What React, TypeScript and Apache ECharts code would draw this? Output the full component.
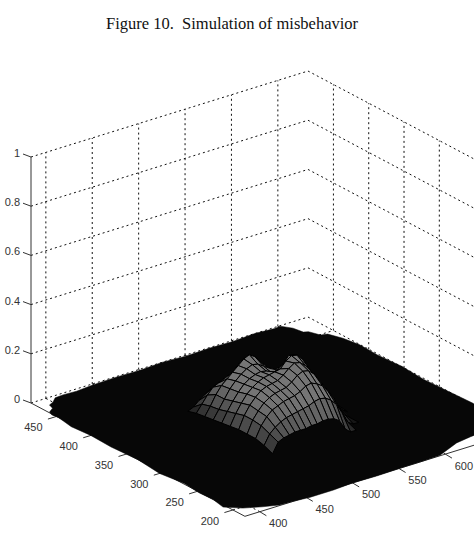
import React, { useEffect, useRef } from "react";
import * as echarts from "echarts";

const titleText = "Figure 10.  Simulation of misbehavior";
const xTicks = [400, 450, 500, 550, 600];
const xWallTicks = [400, 450, 500, 550, 600, 650];
const yTicks = [200, 250, 300, 350, 400, 450];
const zTicks = [0, 0.2, 0.4, 0.6, 0.8, 1];

const surfaceX = [480, 486, 492, 498, 504, 510, 516, 522, 528, 534, 540, 546, 552, 558, 564, 570, 576, 582, 588];
const surfaceY = [390, 378, 366, 354, 342, 330, 318, 306, 294, 282, 270];
const surfaceZ = [
  [0, 0.01, 0.03, 0.045, 0.06, 0.07, 0.08, 0.09, 0.1, 0.1, 0.09, 0.07, 0.05, 0.04, 0.03, 0.02, 0.01, 0, 0],
  [0.01, 0.04, 0.07, 0.095, 0.105, 0.115, 0.125, 0.14, 0.165, 0.17, 0.15, 0.13, 0.11, 0.095, 0.08, 0.06, 0.03, 0.01, 0],
  [0.015, 0.05, 0.09, 0.12, 0.14, 0.16, 0.18, 0.2, 0.21, 0.195, 0.165, 0.135, 0.115, 0.11, 0.11, 0.1, 0.07, 0.02, 0],
  [0.02, 0.055, 0.09, 0.125, 0.15, 0.17, 0.185, 0.195, 0.19, 0.175, 0.16, 0.145, 0.145, 0.15, 0.155, 0.14, 0.09, 0.03, 0],
  [0.025, 0.065, 0.1, 0.13, 0.155, 0.17, 0.18, 0.185, 0.18, 0.165, 0.17, 0.185, 0.215, 0.21, 0.19, 0.16, 0.11, 0.05, 0.01],
  [0.03, 0.075, 0.11, 0.14, 0.16, 0.175, 0.185, 0.19, 0.195, 0.2, 0.225, 0.24, 0.235, 0.21, 0.17, 0.13, 0.09, 0.04, 0.01],
  [0.035, 0.085, 0.12, 0.145, 0.165, 0.175, 0.18, 0.185, 0.2, 0.22, 0.235, 0.23, 0.21, 0.18, 0.145, 0.105, 0.07, 0.03, 0.005],
  [0.035, 0.085, 0.115, 0.14, 0.155, 0.165, 0.17, 0.175, 0.19, 0.21, 0.22, 0.215, 0.195, 0.16, 0.125, 0.085, 0.045, 0.015, 0],
  [0.035, 0.08, 0.11, 0.13, 0.14, 0.15, 0.155, 0.16, 0.17, 0.185, 0.19, 0.18, 0.165, 0.135, 0.1, 0.055, 0.02, 0, 0],
  [0.025, 0.065, 0.085, 0.1, 0.11, 0.115, 0.12, 0.125, 0.13, 0.14, 0.145, 0.14, 0.125, 0.1, 0.06, 0.015, 0, 0, 0],
  [0.01, 0.05, 0.06, 0.065, 0.07, 0.07, 0.07, 0.075, 0.075, 0.08, 0.08, 0.075, 0.06, 0.02, 0, 0, 0, 0, 0],
];

const floorEdgeX = [385, 392, 394, 400, 407, 416, 430, 449, 475, 500, 525, 550, 575, 600, 625, 645, 652, 658, 660, 664, 668, 674, 679, 682, 681, 683, 681, 684, 682, 683, 680, 660, 644, 622, 595, 575, 551, 525, 500, 478, 453, 436, 422, 408, 393, 381, 384, 383, 385, 381, 384, 382, 383, 381, 384, 383];
const floorEdgeY = [461, 466, 473, 476, 482, 483, 482, 484, 485, 484, 486, 484, 485, 484, 486, 484, 485, 475, 463, 461, 449, 447, 432, 412, 385, 354, 320, 255, 225, 205, 202, 198, 200, 196, 184, 183, 183, 182, 183, 181, 181, 183, 184, 190, 198, 210, 228, 246, 270, 300, 335, 370, 400, 425, 447, 455];

const X_MIN = 384;
const X_MAX = 682.5;
const Y_MIN = 183;
const Y_MAX = 486;

type P3 = [number, number, number];

function project(x: number, y: number, z: number): [number, number] {
  const dx = x - X_MIN;
  const dy = Y_MAX - y;
  return [31 + 0.928 * dx + 0.706 * dy, 403 - 0.288 * dx + 0.374 * dy - 246 * z];
}

const wallSegments: P3[][] = [];
xWallTicks.forEach((x) => {
  wallSegments.push([[x, Y_MAX, 0], [x, Y_MAX, 1]]);
  wallSegments.push([[x, Y_MIN, 0], [x, Y_MAX, 0]]);
});
yTicks.forEach((y) => {
  wallSegments.push([[X_MAX, y, 0], [X_MAX, y, 1]]);
  wallSegments.push([[X_MIN, y, 0], [X_MAX, y, 0]]);
});
zTicks.forEach((z) => {
  wallSegments.push([[X_MIN, Y_MAX, z], [X_MAX, Y_MAX, z], [X_MAX, Y_MIN, z]]);
});

const axisSegments: P3[][] = [
  [[X_MIN, Y_MAX, 0], [X_MIN, Y_MAX, 1]],
  [[X_MIN, Y_MAX, 0], [X_MIN, Y_MIN, 0]],
  [[X_MIN, Y_MIN, 0], [X_MAX, Y_MIN, 0]],
];

type Tick = { at: P3; tick: [number, number]; label: [number, number]; text: string; align: string };
const ticks: Tick[] = [
  ...zTicks.map((z) => ({ at: [X_MIN, Y_MAX, z] as P3, tick: [-8, -3] as [number, number], label: [-11, -4] as [number, number], text: String(z), align: "right" })),
  ...yTicks.map((y) => ({ at: [X_MIN, y, 0] as P3, tick: [-8.5, 2.6] as [number, number], label: [-23, 11] as [number, number], text: String(y), align: "center" })),
  ...xTicks.map((x) => ({ at: [x, Y_MIN, 0] as P3, tick: [6.6, 4] as [number, number], label: [18.5, 11.5] as [number, number], text: String(x), align: "center" })),
];

type Cell = { i: number; j: number };
const cells: Cell[] = [];
// painter's order: far corner (high x, high y) first
for (let i = surfaceX.length - 2; i >= 0; i--) {
  for (let j = 0; j < surfaceY.length - 1; j++) {
    cells.push({ i, j });
  }
}

function greyOf(z: number): string {
  const v = Math.min(0.46, Math.sqrt(Math.max(z, 0)) * 1.2);
  const c = Math.round(v * 255);
  return `rgb(${c},${c},${c})`;
}

const indexData = (n: number) => Array.from({ length: n }, (_, k) => [k, 0]);

export default function App() {
  const ref = useRef<HTMLDivElement>(null);
  useEffect(() => {
    document.body.style.margin = "0";
    document.body.style.background = "#fff";
    const chart = echarts.init(ref.current!, undefined, { renderer: "svg" });
    const toPx = (api: any, p: P3) => api.coord(project(p[0], p[1], p[2]));
    chart.setOption({
      animation: false,
      backgroundColor: "#fff",
      title: {
        text: titleText,
        left: 227,
        top: 10,
        textAlign: "center",
        textStyle: { fontFamily: "Liberation Serif", fontSize: 16.5, fontWeight: "normal", color: "#111" },
      },
      tooltip: { show: false },
      grid: { left: 0, right: 0, top: 0, bottom: 0 },
      xAxis: { type: "value", min: 0, max: 474, show: false },
      yAxis: { type: "value", min: 0, max: 534, inverse: true, show: false },
      series: [
        {
          type: "custom",
          name: "grid",
          silent: true,
          clip: true,
          data: indexData(wallSegments.length),
          renderItem: (params: any, api: any) => ({
            type: "polyline",
            shape: { points: wallSegments[params.dataIndex].map((p) => toPx(api, p)) },
            style: { stroke: "#111", lineWidth: 1, lineDash: [2, 3], fill: "none" },
          }),
        },
        {
          type: "custom",
          name: "axes",
          silent: true,
          clip: true,
          data: indexData(axisSegments.length),
          renderItem: (params: any, api: any) => ({
            type: "polyline",
            shape: { points: axisSegments[params.dataIndex].map((p) => toPx(api, p)) },
            style: { stroke: "#333", lineWidth: 1, fill: "none" },
          }),
        },
        {
          type: "custom",
          name: "ticks",
          silent: true,
          clip: false,
          data: indexData(ticks.length),
          renderItem: (params: any, api: any) => {
            const t = ticks[params.dataIndex];
            const [px, py] = toPx(api, t.at);
            return {
              type: "group",
              children: [
                {
                  type: "line",
                  shape: { x1: px, y1: py, x2: px + t.tick[0], y2: py + t.tick[1] },
                  style: { stroke: "#333", lineWidth: 1 },
                },
                {
                  type: "text",
                  style: {
                    text: t.text,
                    x: px + t.label[0],
                    y: py + t.label[1],
                    align: t.align,
                    verticalAlign: "middle",
                    fontFamily: "Liberation Sans",
                    fontSize: 11,
                    fill: "#333",
                  },
                },
              ],
            };
          },
        },
        {
          type: "custom",
          name: "floor",
          silent: true,
          clip: true,
          data: [[0, 0]],
          renderItem: (_params: any, api: any) => ({
            type: "polygon",
            shape: { points: floorEdgeX.map((x, k) => toPx(api, [x, floorEdgeY[k], 0])) },
            style: { fill: "#070707", stroke: "#070707", lineWidth: 0.5 },
          }),
        },
        {
          type: "custom",
          name: "surface",
          silent: true,
          clip: true,
          data: indexData(cells.length),
          renderItem: (params: any, api: any) => {
            const { i, j } = cells[params.dataIndex];
            const corners: P3[] = [
              [surfaceX[i], surfaceY[j], surfaceZ[j][i]],
              [surfaceX[i + 1], surfaceY[j], surfaceZ[j][i + 1]],
              [surfaceX[i + 1], surfaceY[j + 1], surfaceZ[j + 1][i + 1]],
              [surfaceX[i], surfaceY[j + 1], surfaceZ[j + 1][i]],
            ];
            const mean = corners.reduce((s, c) => s + c[2], 0) / 4;
            if (mean < 0.004) return null;
            return {
              type: "polygon",
              shape: { points: corners.map((p) => toPx(api, p)) },
              style: { fill: greyOf(mean), stroke: "#000", lineWidth: 1 },
            };
          },
        },
      ],
    });
    return () => chart.dispose();
  }, []);
  return <div ref={ref} style={{ width: 474, height: 534 }} />;
}
